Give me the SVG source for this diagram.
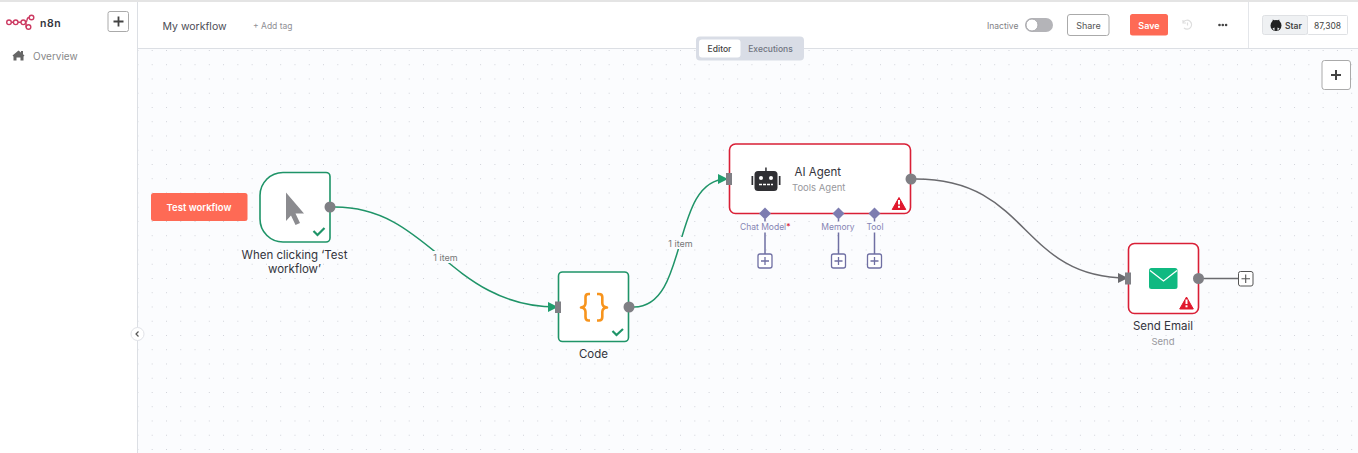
<svg xmlns="http://www.w3.org/2000/svg" width="1358" height="453" viewBox="0 0 1358 453">
<style>
text{font-family:Inter,"Liberation Sans",sans-serif;fill:#555}
.mid{text-anchor:middle}
.node{fill:#fff;stroke-width:1.6}
.ok{stroke:#1f9468}
.err{stroke:#d91f36}
.out{fill:#7f7f84}
.title{font-size:11.500px;fill:#33343c}
.sub{font-size:9.500px;fill:#98989d}
.port{font-size:8.500px;fill:#8583b3}
.wire{fill:none;stroke-width:1.500}
.aux{fill:none;stroke:#6f6fa3;stroke-width:1.500}
.dia{fill:#7c7cb0}
.addp{fill:#fff;stroke:#6f6fa3;stroke-width:1.300}
.addl{stroke:#6f6fa3;stroke-width:1.300}
.check{fill:none;stroke:#1f9468;stroke-width:2.200}
.btn{fill:#fff;stroke:#aaa;stroke-width:1}
</style>
<defs>
<pattern id="grid" x="151.700" y="50" width="14.280" height="14.250" patternUnits="userSpaceOnUse"><rect x="-.1" y="-.1" width="1" height="1" fill="#c8cbd2"/></pattern>
<marker id="ag" markerWidth="10" markerHeight="10" refX="9" refY="5" orient="auto" markerUnits="userSpaceOnUse"><path d="M0 0L10 5L0 10z" fill="#1f9e6e"/></marker>
<marker id="ab" markerWidth="10" markerHeight="10" refX="9" refY="5" orient="auto" markerUnits="userSpaceOnUse"><path d="M0 0L10 5L0 10z" fill="#6a6a6e"/></marker>
<path id="warn" d="M0-6.500L6.800 5.500H-6.800z" fill="#e0182d" stroke="#e0182d" stroke-width="1" stroke-linejoin="round"/>
</defs>
<rect width="1358" height="453" fill="#fff"/>
<rect x="138" y="49" width="1220" height="404" fill="#fbfcfe"/>
<rect x="138" y="49" width="1220" height="404" fill="url(#grid)"/>
<rect width="1358" height="2" fill="#e4e4e4"/>
<line x1="137.500" y1="2" x2="137.500" y2="453" stroke="#dcdfe4"/>
<line x1="138" y1="48.500" x2="1358" y2="48.500" stroke="#dcdfe4"/>
<line x1="1248.500" y1="2" x2="1248.500" y2="48" stroke="#e4e6ea"/>

<g id="sidebar">
<g fill="none" stroke="#cc3a62" stroke-width="1.400"><circle cx="9" cy="22.300" r="2.300"/><circle cx="15.700" cy="22.300" r="2.300"/><circle cx="23.300" cy="22.300" r="2.300"/><circle cx="31.500" cy="17.500" r="2.300"/><circle cx="28.500" cy="27" r="2.300"/><path d="M11.300 22.300h2.100M18 22.300h3M25.600 22.300c2.500 0 0-4.800 3.600-4.800M25.600 22.800c1 0 0 4.200 .6 4.200"/></g>
<text x="40" y="26.500" style="font-size:10.500px;font-weight:600;letter-spacing:.6px;fill:#33343c">n8n</text>
<rect x="108" y="11.500" width="20.500" height="20" rx="2" class="btn"/>
<path d="M113.500 21.500h10M118.500 16.500v10" stroke="#444" stroke-width="1.800"/>
<path d="M12.500 55.500L18.500 50.500L21 52.500V51H23V54.200L24.500 55.500L23.500 56.500V60.500H20.500V57.500H16.500V60.500H13.500V56.500z" fill="#666"/>
<text x="33" y="59.500" style="font-size:10px;fill:#888">Overview</text>
<circle cx="137.500" cy="334" r="6.500" fill="#fff" stroke="#e1e3e8"/>
<path d="M138.500 331.500L136 334L138.500 336.500" fill="none" stroke="#555" stroke-width="1.200"/>
</g>

<g id="header">
<text x="162.500" y="29.500" style="font-size:10.500px;fill:#4c4c55">My workflow</text>
<text x="253" y="29" style="font-size:8.500px;fill:#8f8f95">+ Add tag</text>
<text x="987" y="28.500" style="font-size:8.500px;fill:#7f7f85">Inactive</text>
<rect x="1025" y="18" width="28" height="14" rx="7" fill="#b4b4b8"/>
<circle cx="1032" cy="25" r="6" fill="#fff" stroke="#a8a8ac"/>
<rect x="1067.500" y="14.500" width="41.500" height="21" rx="2.500" class="btn"/>
<text x="1088.500" y="28.500" class="mid" style="font-size:9px">Share</text>
<rect x="1130" y="14" width="38" height="21.500" rx="2.500" fill="#fe6a55"/>
<text x="1149" y="28.500" class="mid" style="font-size:9px;font-weight:600;fill:#fff">Save</text>
<path d="M1183.500 22A4.500 4.500 0 1 1 1184 28M1183 20v3h3M1187.500 22.500v3" fill="none" stroke="#dedede" stroke-width="1.200"/>
<g fill="#444"><circle cx="1219.500" cy="25" r="1.300"/><circle cx="1222.800" cy="25" r="1.300"/><circle cx="1226.100" cy="25" r="1.300"/></g>
<rect x="1262.500" y="15.500" width="45" height="19" rx="2" fill="#eff1f3" stroke="#dfe1e4"/>
<rect x="1307.500" y="15.500" width="40" height="19" rx="1" fill="#fff" stroke="#dfe1e4"/>
<circle cx="1276" cy="25.500" r="5.500" fill="#222"/>
<path d="M1272.800 19.500L1275 20.800H1277L1279.200 19.500L1279.800 24L1277 27H1275L1272.200 24z" fill="#222"/>
<path d="M1272.500 28.500L1274.500 30.800V27.500L1272.500 28.500zM1279.500 28.500L1277.500 30.800V27.500z" fill="#eff1f3"/>
<text x="1285" y="29" style="font-size:8.500px;font-weight:600;fill:#444">Star</text>
<text x="1327.500" y="29" class="mid" style="font-size:8.500px;fill:#444">87,308</text>
<rect x="696" y="36.500" width="108" height="24" rx="4" fill="#d9dde6"/>
<rect x="699" y="39.500" width="41.500" height="18" rx="3" fill="#fff"/>
<text x="719.500" y="51.500" class="mid" style="font-size:8.500px;font-weight:500;fill:#444">Editor</text>
<text x="770.500" y="51.500" class="mid" style="font-size:8.500px;font-weight:500;fill:#6f7480">Executions</text>
<rect x="1322" y="60.500" width="28.500" height="29" rx="2.500" fill="#fff" stroke="#aaa"/>
<path d="M1331 75h10M1336 70v10" stroke="#444" stroke-width="2"/>
</g>

<g id="connectors">
<path class="wire" d="M335 207C430 207 450 307 557 307" stroke="#1f9468" marker-end="url(#ag)"/>
<path class="wire" d="M634 307C690 307 670 179 727 179" stroke="#1f9468" marker-end="url(#ag)"/>
<path class="wire" d="M916 179C1030 179 1020 278 1127 278" stroke="#6a6a6e" marker-end="url(#ab)"/>
<path class="wire" d="M1203 278.500H1238" stroke="#6a6a6e"/>
<path class="aux" d="M765 219V254M838.500 219V254M874.500 219V254"/>
<rect x="431" y="251" width="29" height="12" fill="#fbfcfe"/>
<text x="445.500" y="261" class="mid" style="font-size:9px;fill:#777">1 item</text>
<rect x="666" y="237" width="29" height="12" fill="#fbfcfe"/>
<text x="680.500" y="247" class="mid" style="font-size:9px;fill:#777">1 item</text>
</g>

<g id="test-workflow">
<rect x="151" y="193" width="96.500" height="28" rx="2.500" fill="#fe6a55"/>
<text x="199" y="211" class="mid" style="font-size:9.500px;font-weight:600;fill:#fff">Test workflow</text>
</g>

<g id="node-trigger">
<path class="node ok" d="M283 172.500H326A4 4 0 0 1 330 176.500V238A4 4 0 0 1 326 242H283A23 23 0 0 1 260 219V195.500A23 23 0 0 1 283 172.500z"/>
<path d="M286 192.500V221L291 215.500L295.500 225L300 223L295.500 213.500L304 213.500z" fill="#8b8b8f"/>
<path class="check" d="M313.500 231L317.500 235L324.500 228"/>
<circle cx="330" cy="207" r="5.500" class="out"/>
<text x="294.500" y="259" class="title mid">When clicking ‘Test</text>
<text x="294.500" y="273" class="title mid">workflow’</text>
</g>

<g id="node-code">
<rect class="node ok" x="558.500" y="272" width="70" height="69.500" rx="4"/>
<path d="M590 294H588.500Q585.500 294 585.500 297V303Q585.500 307 581 307.500Q585.500 308 585.500 312V317Q585.500 320.500 588.500 320.500H590M597 294H599Q602.300 294 602.300 297V303Q602.300 307 607 307.500Q602.300 308 602.300 312V317Q602.300 320.500 599 320.500H597" fill="none" stroke="#f7941d" stroke-width="2.600" stroke-linejoin="round"/>
<path class="check" d="M612.500 331L616.500 335L623 329"/>
<rect x="555" y="301.500" width="6" height="11.500" fill="#7f7f84"/>
<circle cx="629" cy="307" r="5.500" class="out"/>
<text x="593.500" y="358" class="title mid">Code</text>
</g>

<g id="node-agent">
<rect class="node err" x="729.500" y="144" width="181" height="69.500" rx="6"/>
<rect x="754.500" y="171" width="23" height="20" rx="3.500" fill="#2f2f33"/>
<rect x="751.500" y="176" width="1.700" height="9" fill="#2f2f33"/><rect x="778.800" y="176" width="1.700" height="9" fill="#2f2f33"/>
<rect x="765.200" y="167.500" width="1.500" height="4" fill="#2f2f33"/>
<circle cx="761" cy="178" r="2" fill="#fff"/><circle cx="771" cy="178" r="2" fill="#fff"/>
<path d="M759 184.500H773" stroke="#fff" stroke-width="1.500" stroke-dasharray="3 1"/>
<text x="794.500" y="176" style="font-size:11.500px;fill:#33343c">AI Agent</text>
<text x="792" y="191" class="sub">Tools Agent</text>
<use href="#warn" x="899" y="204"/>
<rect x="898" y="200" width="2" height="4.500" fill="#fff"/><rect x="898" y="205.800" width="2" height="2" fill="#fff"/>
<rect x="726" y="173" width="6" height="12" fill="#7f7f84"/>
<circle cx="911" cy="179" r="5.500" class="out"/>
<path class="dia" d="M765 207.500L771 213.500L765 219.500L759 213.500z"/>
<path class="dia" d="M838.500 207.500L844.500 213.500L838.500 219.500L832.500 213.500z"/>
<path class="dia" d="M874.500 207.500L880.500 213.500L874.500 219.500L868.500 213.500z"/>
<rect x="745" y="221.500" width="42" height="11" fill="#fbfcfe"/>
<rect x="820" y="221.500" width="37" height="11" fill="#fbfcfe"/>
<rect x="865" y="221.500" width="19" height="11" fill="#fbfcfe"/>
<text x="740" y="230" class="port">Chat Model<tspan style="fill:#d91f36">*</tspan></text>
<text x="838" y="230" class="port mid">Memory</text>
<text x="875" y="230" class="port mid">Tool</text>
<rect class="addp" x="758" y="254" width="14" height="14" rx="2"/><path class="addl" d="M761 261H769M765 257V265"/>
<rect class="addp" x="831.500" y="254" width="14" height="14" rx="2"/><path class="addl" d="M834.500 261H842.500M838.500 257V265"/>
<rect class="addp" x="867.500" y="254" width="14" height="14" rx="2"/><path class="addl" d="M870.500 261H878.500M874.500 257V265"/>
</g>

<g id="node-email">
<rect class="node err" x="1128.500" y="243.500" width="70" height="70" rx="6"/>
<rect x="1149" y="268" width="28.500" height="21" rx="2.500" fill="#10b981"/>
<path d="M1150 270.500L1163.500 281L1177 270.500" fill="none" stroke="#fff" stroke-width="1.300"/>
<use href="#warn" x="1186.500" y="303.500"/>
<rect x="1185.500" y="299.500" width="2" height="4.500" fill="#fff"/><rect x="1185.500" y="305.300" width="2" height="2" fill="#fff"/>
<rect x="1125" y="272.500" width="6" height="12" fill="#7f7f84"/>
<circle cx="1198.500" cy="278.500" r="5.500" class="out"/>
<rect class="btn" x="1238.500" y="271.500" width="14.500" height="14.500" rx="2" style="stroke:#555"/>
<path d="M1241.500 278.700H1250M1245.700 274.500V283" stroke="#555" stroke-width="1.100"/>
<text x="1163" y="330" class="title mid">Send Email</text>
<text x="1163" y="345" class="sub mid">Send</text>
</g>
</svg>
